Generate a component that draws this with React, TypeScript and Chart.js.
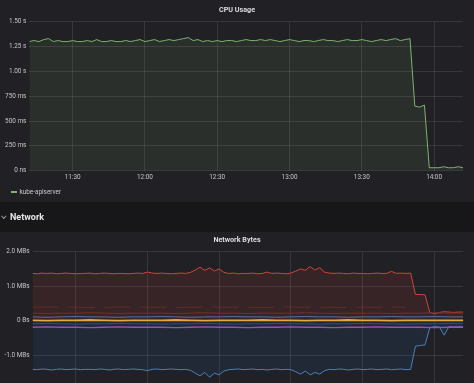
import React, { useEffect, useRef } from "react";
import { Chart, registerables } from "chart.js";

Chart.register(...registerables);

// time in minutes since midnight (11:12 .. 14:12), 2-minute samples
const minutes = [
  672, 674, 676, 678, 680, 682, 684, 686, 688, 690,
  692, 694, 696, 698, 700, 702, 704, 706, 708, 710,
  712, 714, 716, 718, 720, 722, 724, 726, 728, 730,
  732, 734, 736, 738, 740, 742, 744, 746, 748, 750,
  752, 754, 756, 758, 760, 762, 764, 766, 768, 770,
  772, 774, 776, 778, 780, 782, 784, 786, 788, 790,
  792, 794, 796, 798, 800, 802, 804, 806, 808, 810,
  812, 814, 816, 818, 820, 822, 824, 826, 828, 830,
  832, 834, 836, 838, 840, 842, 844, 846, 848, 850,
  852,
];

// CPU usage, seconds
const cpuSeconds = [
  1.30, 1.31, 1.30, 1.32, 1.33, 1.30, 1.31, 1.30, 1.30, 1.31,
  1.30, 1.30, 1.31, 1.30, 1.32, 1.30, 1.30, 1.31, 1.30, 1.30,
  1.31, 1.30, 1.31, 1.32, 1.30, 1.31, 1.32, 1.30, 1.31, 1.32,
  1.31, 1.32, 1.33, 1.34, 1.31, 1.32, 1.30, 1.31, 1.30, 1.31,
  1.30, 1.31, 1.31, 1.30, 1.31, 1.32, 1.31, 1.31, 1.32, 1.31,
  1.32, 1.31, 1.30, 1.31, 1.32, 1.31, 1.30, 1.31, 1.31, 1.30,
  1.31, 1.32, 1.31, 1.31, 1.30, 1.31, 1.32, 1.31, 1.31, 1.32,
  1.31, 1.30, 1.31, 1.32, 1.31, 1.32, 1.33, 1.31, 1.32, 1.33,
  0.65, 0.64, 0.66, 0.03, 0.03, 0.03, 0.04, 0.03, 0.03, 0.04,
  0.03,
];

// Network transmit (MB/s, positive)
const netTx = [
  1.37, 1.36, 1.38, 1.37, 1.38, 1.36, 1.37, 1.38, 1.37, 1.36,
  1.37, 1.37, 1.38, 1.36, 1.37, 1.38, 1.37, 1.36, 1.37, 1.37,
  1.36, 1.37, 1.38, 1.37, 1.41, 1.38, 1.37, 1.38, 1.37, 1.36,
  1.37, 1.38, 1.37, 1.40, 1.47, 1.55, 1.46, 1.53, 1.44, 1.50,
  1.40, 1.37, 1.38, 1.36, 1.37, 1.37, 1.38, 1.36, 1.37, 1.41,
  1.37, 1.38, 1.37, 1.36, 1.38, 1.44, 1.50, 1.46, 1.57, 1.47,
  1.54, 1.41, 1.38, 1.37, 1.38, 1.37, 1.36, 1.38, 1.37, 1.37,
  1.36, 1.37, 1.38, 1.37, 1.37, 1.43, 1.37, 1.38, 1.37, 1.38,
  0.76, 0.76, 0.75, 0.24, 0.20, 0.24, 0.26, 0.25, 0.24, 0.25,
  0.25,
];

// Network receive (MB/s, negative)
const netRx = [
  -1.41, -1.42, -1.40, -1.41, -1.43, -1.41, -1.40, -1.42, -1.41, -1.40,
  -1.42, -1.41, -1.41, -1.42, -1.40, -1.41, -1.43, -1.41, -1.40, -1.42,
  -1.41, -1.40, -1.41, -1.42, -1.45, -1.41, -1.40, -1.42, -1.41, -1.40,
  -1.41, -1.42, -1.41, -1.44, -1.52, -1.60, -1.50, -1.64, -1.52, -1.57,
  -1.46, -1.42, -1.41, -1.40, -1.42, -1.41, -1.40, -1.42, -1.41, -1.43,
  -1.41, -1.40, -1.42, -1.41, -1.42, -1.48, -1.55, -1.46, -1.57, -1.50,
  -1.55, -1.45, -1.41, -1.42, -1.40, -1.41, -1.43, -1.41, -1.40, -1.42,
  -1.41, -1.40, -1.42, -1.41, -1.40, -1.42, -1.41, -1.40, -1.42, -1.41,
  -0.74, -0.72, -0.70, -0.20, -0.17, -0.18, -0.42, -0.17, -0.18, -0.17,
  -0.18,
];

// 6-minute samples for the small series near zero
const coarseMinutes = [
  672, 678, 684, 690, 696, 702, 708, 714, 720, 726, 732,
  738, 744, 750, 756, 762, 768, 774, 780, 786, 792, 798,
  804, 810, 816, 822, 828, 834, 840, 846, 852,
];
const netFaintRed = [
  0.39, 0.40, 0.39, 0.39, 0.38, 0.39, 0.40, 0.39, 0.39, 0.39, 0.38,
  0.39, 0.40, 0.39, 0.39, 0.39, 0.38, 0.39, 0.40, 0.39, 0.39, 0.39,
  0.38, 0.39, 0.39, 0.40, 0.39, null, null, null, null,
];
const netDarkRed = [
  0.22, 0.21, 0.22, 0.22, 0.23, 0.22, 0.21, 0.22, 0.22, 0.22, 0.21,
  0.22, 0.23, 0.22, 0.22, 0.21, 0.22, 0.22, 0.22, 0.23, 0.22, 0.21,
  0.22, 0.22, 0.22, 0.21, 0.22, 0.22, 0.23, 0.22, 0.22,
];
const netSteel = [
  0.11, 0.10, 0.11, 0.12, 0.11, 0.11, 0.10, 0.11, 0.11, 0.12, 0.11,
  0.10, 0.11, 0.11, 0.12, 0.11, 0.11, 0.10, 0.11, 0.12, 0.11, 0.11,
  0.10, 0.11, 0.11, 0.12, 0.11, 0.11, 0.12, 0.11, 0.11,
];
const netOrange = [
  0.01, 0.00, 0.01, 0.01, 0.02, 0.01, 0.00, 0.01, 0.01, 0.01, 0.02,
  0.01, 0.00, 0.01, 0.01, 0.01, 0.02, 0.01, 0.01, 0.00, 0.01, 0.01,
  0.02, 0.01, 0.01, 0.00, 0.01, 0.01, 0.01, 0.01, 0.01,
];
const netDarkBlue = [
  -0.09, -0.08, -0.09, -0.10, -0.09, -0.09, -0.08, -0.09, -0.09, -0.10, -0.09,
  -0.09, -0.08, -0.09, -0.10, -0.09, -0.09, -0.08, -0.09, -0.09, -0.10, -0.09,
  -0.09, -0.08, -0.09, -0.09, -0.10, -0.09, -0.09, -0.08, -0.09,
];
const netPurple = [
  -0.19, -0.18, -0.19, -0.19, -0.20, -0.19, -0.18, -0.19, -0.19, -0.19, -0.20,
  -0.19, -0.18, -0.19, -0.19, -0.20, -0.19, -0.19, -0.18, -0.19, -0.19, -0.20,
  -0.19, -0.19, -0.18, -0.19, -0.19, -0.19, -0.20, -0.19, -0.19,
];

const timeTickValues = [690, 720, 750, 780, 810, 840];
const timeTickLabels = ["11:30", "12:00", "12:30", "13:00", "13:30", "14:00"];
const cpuTickValues = [0, 0.25, 0.5, 0.75, 1, 1.25, 1.5];
const cpuTickLabels = ["0 ns", "250 ms", "500 ms", "750 ms", "1.00 s", "1.25 s", "1.50 s"];
const netTickValues = [-2, -1, 0, 1, 2];
const netTickLabels = ["-2.0 MBs", "-1.0 MBs", "0 Bs", "1.0 MBs", "2.0 MBs"];

const FONT = "Roboto, 'Liberation Sans', Arial, sans-serif";
const tickColor = "#c6c7ca";
const gridColor = "rgba(255,255,255,0.10)";

function pts(xs: number[], ys: (number | null)[]) {
  return xs.map((x, i) => ({ x, y: ys[i] }));
}

function xScale() {
  return {
    type: "linear",
    min: 672,
    max: 852,
    afterBuildTicks: (s: any) => {
      s.ticks = timeTickValues.map((v) => ({ value: v }));
    },
    afterFit: (s: any) => {
      s.height = 14;
    },
    grid: { color: gridColor, drawTicks: false },
    border: { display: false },
    ticks: {
      color: tickColor,
      font: { family: FONT, size: 6.4 },
      padding: 3,
      maxRotation: 0,
      autoSkip: false,
      callback: (v: any) => {
        const i = timeTickValues.indexOf(Number(v));
        return i >= 0 ? timeTickLabels[i] : "";
      },
    },
  };
}

function yScale(values: number[], labels: string[], width: number) {
  return {
    type: "linear",
    min: values[0],
    max: values[values.length - 1],
    afterBuildTicks: (s: any) => {
      s.ticks = values.map((v) => ({ value: v }));
    },
    afterFit: (s: any) => {
      s.width = width;
    },
    grid: { color: gridColor, drawTicks: false },
    border: { display: false },
    ticks: {
      color: tickColor,
      font: { family: FONT, size: 6.4 },
      padding: 3,
      autoSkip: false,
      callback: (v: any) => {
        const i = values.indexOf(Number(v));
        return i >= 0 ? labels[i] : "";
      },
    },
  };
}

function baseOptions(padding: any, y: any) {
  return {
    responsive: false,
    maintainAspectRatio: false,
    animation: false,
    devicePixelRatio: 1,
    layout: { padding },
    elements: { point: { radius: 0 }, line: { tension: 0 } },
    plugins: {
      legend: { display: false },
      title: { display: false },
      tooltip: { enabled: false },
      filler: { drawTime: "beforeDatasetsDraw" },
    },
    scales: { x: xScale(), y },
  };
}

function line(label: string, data: any, color: string, extra: any = {}) {
  return {
    label,
    data,
    borderColor: color,
    borderWidth: 1,
    pointRadius: 0,
    fill: false,
    spanGaps: false,
    ...extra,
  };
}

export default function App() {
  const cpuRef = useRef<HTMLCanvasElement | null>(null);
  const netRef = useRef<HTMLCanvasElement | null>(null);

  useEffect(() => {
    const cpu = new Chart(cpuRef.current as HTMLCanvasElement, {
      type: "line",
      data: {
        datasets: [
          line("kube-apiserver", pts(minutes, cpuSeconds), "#7eb26d", {
            fill: "origin",
            backgroundColor: "rgba(126,178,109,0.10)",
          }),
        ],
      },
      options: baseOptions(
        { top: 21.7, bottom: 17.3, left: 0, right: 11 },
        yScale(cpuTickValues, cpuTickLabels, 29.3)
      ) as any,
    });

    const net = new Chart(netRef.current as HTMLCanvasElement, {
      type: "line",
      data: {
        datasets: [
          line("orange", pts(coarseMinutes, netOrange), "#e5a83a", { borderWidth: 1.8 }),
          line("purple", pts(coarseMinutes, netPurple), "#a34cb4", { borderWidth: 1.4 }),
          line("steel", pts(coarseMinutes, netSteel), "#5d70a6"),
          line("darkblue", pts(coarseMinutes, netDarkBlue), "#34507e"),
          line("darkred", pts(coarseMinutes, netDarkRed), "#7d2e28"),
          line("faintred", pts(coarseMinutes, netFaintRed), "rgba(150,55,45,0.45)", {
            borderDash: [26, 10],
          }),
          line("transmit", pts(minutes, netTx), "#c9473b", {
            fill: "origin",
            backgroundColor: "rgba(200,60,50,0.13)",
          }),
          line("receive", pts(minutes, netRx), "#4a7fbd", {
            fill: "origin",
            backgroundColor: "rgba(31,120,193,0.10)",
          }),
        ],
      },
      options: baseOptions(
        { top: 19.7, bottom: 8.3, left: 0, right: 10.7 },
        yScale(netTickValues, netTickLabels, 32.5)
      ) as any,
    });

    return () => {
      cpu.destroy();
      net.destroy();
    };
  }, []);

  return (
    <div
      style={{
        position: "fixed",
        left: 0,
        top: 0,
        width: 474,
        height: 383,
        overflow: "hidden",
        background: "#17171a",
        fontFamily: FONT,
      }}
    >
      <div
        style={{
          position: "absolute",
          left: 0,
          top: 0,
          width: 474,
          height: 202,
          background: "#212125",
        }}
      >
        <canvas
          ref={cpuRef}
          width={474}
          height={202}
          style={{ position: "absolute", left: 0, top: 0, width: 474, height: 202 }}
        />
        <div
          style={{
            position: "absolute",
            left: 0,
            top: 4,
            width: 474,
            textAlign: "center",
            fontSize: 7.2,
            lineHeight: "12px",
            fontWeight: 700,
            color: "#dcdde0",
          }}
        >
          CPU Usage
        </div>
        <div
          style={{
            position: "absolute",
            left: 11,
            top: 190.8,
            width: 6,
            height: 2,
            background: "#7eb26d",
          }}
        />
        <div
          style={{
            position: "absolute",
            left: 19.5,
            top: 187.7,
            fontSize: 6.4,
            lineHeight: "8px",
            color: "#c8c9cc",
            whiteSpace: "nowrap",
          }}
        >
          kube-apiserver
        </div>
      </div>

      <div
        style={{
          position: "absolute",
          left: 1.5,
          top: 214,
          width: 2.5,
          height: 2.5,
          borderRight: "1px solid #9a9ba0",
          borderBottom: "1px solid #9a9ba0",
          transform: "rotate(45deg)",
        }}
      />
      <div
        style={{
          position: "absolute",
          left: 10,
          top: 211.7,
          fontSize: 9,
          lineHeight: "10px",
          fontWeight: 700,
          color: "#e4e5e7",
          whiteSpace: "nowrap",
        }}
      >
        Network
      </div>

      <div
        style={{
          position: "absolute",
          left: 0,
          top: 232,
          width: 474,
          height: 180,
          background: "#212125",
        }}
      >
        <canvas
          ref={netRef}
          width={474}
          height={180}
          style={{ position: "absolute", left: 0, top: 0, width: 474, height: 180 }}
        />
        <div
          style={{
            position: "absolute",
            left: 0,
            top: 2,
            width: 474,
            textAlign: "center",
            fontSize: 7.2,
            lineHeight: "12px",
            fontWeight: 700,
            color: "#dcdde0",
          }}
        >
          Network Bytes
        </div>
      </div>
    </div>
  );
}
